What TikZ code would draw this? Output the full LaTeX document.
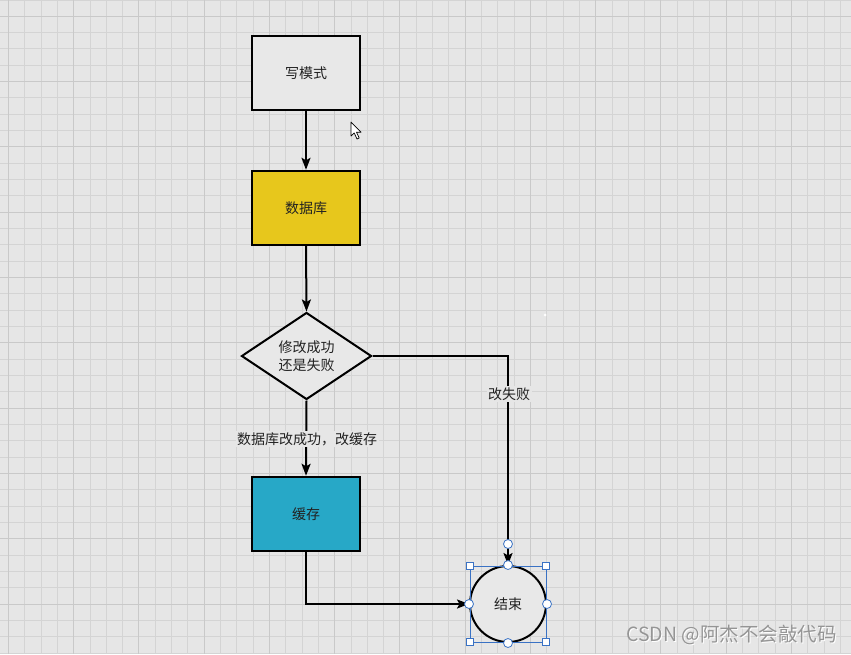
\documentclass[tikz,border=0pt]{standalone}
\usepackage{fontspec}
\newfontfamily\cjk{Noto Sans CJK SC}
\usetikzlibrary{shapes.geometric,arrows.meta}
\definecolor{bgc}{HTML}{E6E6E6}
\definecolor{minorc}{HTML}{D4D4D4}
\definecolor{majorc}{HTML}{C9C9C9}
\definecolor{boxgray}{HTML}{E8E8E8}
\definecolor{dbyellow}{HTML}{E7C71C}
\definecolor{cacheblue}{HTML}{27A8C7}
\definecolor{selblue}{HTML}{3A72C4}
\definecolor{txt}{HTML}{222222}
\definecolor{wm}{HTML}{959595}
\tikzset{
  procbox/.style={draw=black,line width=2.4pt,minimum width=108pt,minimum height=74pt,inner sep=0pt,
    font=\cjk\fontsize{14}{17.5}\selectfont,text=txt},
  decbox/.style={diamond,draw=black,line width=2pt,fill=boxgray,minimum width=130pt,minimum height=87pt,
    aspect=1.5,inner sep=0pt,align=center,font=\cjk\fontsize{14}{17.5}\selectfont,text=txt},
  endbox/.style={circle,draw=black,line width=2pt,fill=boxgray,minimum size=76pt,inner sep=0pt,
    font=\cjk\fontsize{14}{17.5}\selectfont,text=txt},
  conn/.style={draw=black,line width=2pt,-{Stealth[length=12pt,width=9pt,inset=2.5pt]}},
  lbl/.style={fill=bgc,inner sep=1.5pt,font=\cjk\fontsize{14}{17.5}\selectfont,text=txt},
  hsq/.style={draw=selblue,fill=white,line width=0.8pt,minimum size=7pt,inner sep=0pt},
  hci/.style={circle,draw=selblue,fill=white,line width=0.8pt,minimum size=9pt,inner sep=0pt},
}
\begin{document}
\begin{tikzpicture}[x=1pt,y=-1pt]
\useasboundingbox (0,0) rectangle (851,654);
\fill[bgc] (0,0) rectangle (851,654);
% grid
\foreach \i in {0,...,53}{
  \pgfmathsetmacro\xx{8.45+16.3125*\i-16.3125}
  \draw[minorc,line width=1pt] (\xx,0) -- (\xx,654);
}
\foreach \i in {0,...,41}{
  \pgfmathsetmacro\yy{16.33*\i}
  \draw[minorc,line width=1pt] (0,\yy) -- (851,\yy);
}
\foreach \i in {0,...,13}{
  \pgfmathsetmacro\xx{8.45+65.25*\i}
  \draw[majorc,line width=1pt] (\xx,0) -- (\xx,654);
}
\foreach \i in {0,...,10}{
  \pgfmathsetmacro\yy{16.33+65.32*\i}
  \draw[majorc,line width=1pt] (0,\yy) -- (851,\yy);
}
% nodes
\node[procbox,fill=boxgray] (w) at (306,73) {写模式};
\node[procbox,fill=dbyellow] (db) at (306,208) {数据库};
\node[decbox] (dec) at (306.5,356) {修改成功\\还是失败};
\node[procbox,fill=cacheblue] (cache) at (306,514) {缓存};
\node[endbox] (end) at (508,604) {结束};
% connectors
\draw[conn] (w.south) -- (db.north);
\draw[conn] (db.south) -- (dec.north);
\draw[conn] (dec.south) -- (cache.north);
\draw[conn] (dec.east) -| (end.north);
\draw[conn] (cache.south) |- (end.west);
\node[lbl] (l1) at (307,439) {数据库改成功，改缓存};
\node[lbl] (l2) at (509,394) {改失败};
% selection handles
\draw[selblue,line width=0.8pt] (470,566) rectangle (546,642);
\node[hsq] (s1) at (470,566) {};
\node[hsq] (s2) at (546,566) {};
\node[hsq] (s3) at (470,642) {};
\node[hsq] (s4) at (546,642) {};
\node[hci] (c1) at (end.north) {};
\node[hci] (c2) at (end.south) {};
\node[hci] (c3) at (end.west) {};
\node[hci] (c4) at (end.east) {};
\node[hci] (c5) at (508,544) {};
% cursor
\draw[black,fill=white,line width=0.7pt,line join=round]
  (351,122) -- (351,136) -- (354.2,133) -- (357,139) -- (359.2,138) -- (356.5,132.2) -- (361,132.2) -- cycle;
% stray dot
\fill[white] (545,315) circle (1.5);
% watermark
\node[anchor=east,inner sep=0pt,text=white,font=\cjk\fontsize{19.5}{22}\selectfont] at (837.8,635.8) {CSDN @阿杰不会敲代码};
\node[anchor=east,inner sep=0pt,text=wm,font=\cjk\fontsize{19.5}{22}\selectfont] (wmk) at (837,635) {CSDN @阿杰不会敲代码};
\end{tikzpicture}
\end{document}
